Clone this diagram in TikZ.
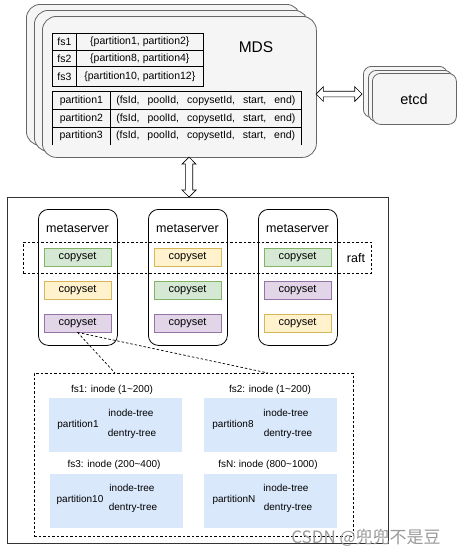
\documentclass[tikz,border=0pt]{standalone}
\usepackage{fontspec}
\setmainfont{Liberation Sans}
\newfontfamily\cjkfont{Noto Sans CJK SC}
\usetikzlibrary{shapes.arrows}
\definecolor{mdsfill}{HTML}{F5F5F5}
\definecolor{mdsline}{HTML}{666666}
\definecolor{gfill}{HTML}{D5E8D4}
\definecolor{gline}{HTML}{82B366}
\definecolor{yfill}{HTML}{FFF2CC}
\definecolor{yline}{HTML}{D6B656}
\definecolor{pfill}{HTML}{E1D5E7}
\definecolor{pline}{HTML}{9673A6}
\definecolor{bfill}{HTML}{DAE8FC}
\definecolor{boxline}{HTML}{333333}
\newcommand{\wsp}{\hspace{8pt}}
\begin{document}
\begin{tikzpicture}[x=1pt,y=-1pt,
  mdsbox/.style={draw=mdsline, fill=mdsfill, rounded corners=14pt, line width=0.8pt, anchor=north west, inner sep=0pt, minimum width=274pt, minimum height=141pt},
  etcdbox/.style={draw=mdsline, fill=mdsfill, rounded corners=8pt, line width=0.8pt, anchor=north west, inner sep=0pt, minimum width=84pt, minimum height=51pt},
  cell/.style={draw=black, line width=0.7pt, inner sep=0pt, anchor=north west, font=\fontsize{10.5}{12}\selectfont},
  tcell/.style={inner sep=0pt, anchor=north west, font=\fontsize{10.5}{12}\selectfont},
  hollowarrow/.style={double arrow, draw=black, fill=white, line width=0.7pt, outer sep=0pt},
  msbox/.style={draw=black, rounded corners=10pt, line width=0.8pt, anchor=north west, minimum width=79pt, minimum height=136pt, inner sep=0pt},
  mslabel/.style={font=\fontsize{12.5}{15}\selectfont},
  csbox/.style={line width=0.8pt, minimum width=67pt, minimum height=18pt, inner sep=0pt, font=\fontsize{11}{13}\selectfont},
  csg/.style={csbox, draw=gline, fill=gfill},
  csy/.style={csbox, draw=yline, fill=yfill},
  csp/.style={csbox, draw=pline, fill=pfill},
  dashbox/.style={draw=black, line width=0.7pt, dash pattern=on 2.5pt off 2pt, anchor=north west, inner sep=0pt},
  dashline/.style={draw=black, line width=0.7pt, dash pattern=on 2.5pt off 2pt},
  partbox/.style={fill=bfill, anchor=north west, minimum width=133pt, minimum height=54pt, inner sep=0pt},
  small/.style={font=\fontsize{10}{12}\selectfont}
]
\useasboundingbox (0,0) rectangle (467,558);

% MDS stack
\node[mdsbox] (mds3) at (26,4) {};
\node[mdsbox] (mds2) at (34,10) {};
\node[mdsbox] (mds1) at (42,16) {};
\node[font=\fontsize{15.5}{18}\selectfont] (mdslabel) at (256,47) {MDS};

% table 1
\node[cell, minimum width=24pt, minimum height=17pt] (f1a) at (52,33) {fs1};
\node[cell, minimum width=127pt, minimum height=17pt] (f1b) at (76,33) {\{partition1, partition2\}};
\node[cell, minimum width=24pt, minimum height=16pt] (f2a) at (52,50) {fs2};
\node[cell, minimum width=127pt, minimum height=16pt] (f2b) at (76,50) {\{partition8, partition4\}};
\node[cell, minimum width=24pt, minimum height=20pt] (f3a) at (52,66) {fs3};
\node[cell, minimum width=127pt, minimum height=20pt] (f3b) at (76,66) {\{partition10, partition12\}};

% table 2
\node[cell, minimum width=58pt, minimum height=18pt] (p1a) at (52,91) {partition1};
\node[cell, minimum width=191pt, minimum height=18pt] (p1b) at (110,91) {(fsId,\wsp poolId,\wsp copysetId,\wsp start,\wsp end)};
\node[cell, minimum width=58pt, minimum height=18pt] (p2a) at (52,109) {partition2};
\node[cell, minimum width=191pt, minimum height=18pt] (p2b) at (110,109) {(fsId,\wsp poolId,\wsp copysetId,\wsp start,\wsp end)};
\node[tcell, minimum width=58pt, minimum height=18pt] (p3a) at (52,127) {partition3};
\node[tcell, minimum width=191pt, minimum height=18pt] (p3b) at (110,127) {(fsId,\wsp poolId,\wsp copysetId,\wsp start,\wsp end)};
\draw[line width=0.7pt] (p3a.south west) -- (p3a.north west);
\draw[line width=0.7pt] (p3b.south west) -- (p3b.north west);
\draw[line width=0.7pt] (p3b.south east) -- (p3b.north east);

% etcd stack
\node[etcdbox] (etcd3) at (363,66) {};
\node[etcdbox] (etcd2) at (368,70) {};
\node[etcdbox] (etcd1) at (372,73) {};
\node[font=\fontsize{14.5}{17}\selectfont] (etcdlabel) at (414,99) {etcd};

% arrows
\node[hollowarrow, minimum height=46pt, inner xsep=0pt, inner ysep=2.5pt, double arrow head extend=4.5pt] (harrow) at (339,94) {};
\node[hollowarrow, minimum height=40pt, inner xsep=3.3pt, inner ysep=0pt, double arrow head extend=3.3pt, shape border rotate=90] (varrow) at (189,177) {};

% big box
\node[draw=boxline, line width=1pt, anchor=north west, minimum width=381pt, minimum height=346pt, inner sep=0pt] (cluster) at (7,197) {};

% raft
\node[dashbox, minimum width=348pt, minimum height=31pt] (raftbox) at (23,242) {};
\node[font=\fontsize{12.5}{15}\selectfont] (raftlabel) at (356,258) {raft};

% metaservers
\node[msbox] (ms1) at (38,209) {};
\node[msbox] (ms2) at (148,209) {};
\node[msbox] (ms3) at (258,209) {};
\node[mslabel] (ml1) at (77.5,229) {metaserver};
\node[mslabel] (ml2) at (187.5,229) {metaserver};
\node[mslabel] (ml3) at (297.5,229) {metaserver};

\node[csg] (cs11) at (77.5,257) {copyset};
\node[csy] (cs12) at (77.5,290.5) {copyset};
\node[csp] (cs13) at (77.5,323) {copyset};
\node[csy] (cs21) at (187.5,257) {copyset};
\node[csg] (cs22) at (187.5,290.5) {copyset};
\node[csp] (cs23) at (187.5,323) {copyset};
\node[csg] (cs31) at (297.5,257) {copyset};
\node[csp] (cs32) at (297.5,290.5) {copyset};
\node[csy] (cs33) at (297.5,323) {copyset};

% detail box
\node[dashbox, minimum width=319pt, minimum height=163pt] (detail) at (34,373) {};
\coordinate (d1) at (115,373);
\coordinate (d2) at (268,373);
\draw[dashline] (cs13.south) -- (d1);
\draw[dashline] (cs13.south) -- (d2);

\node[small] (fs1l) at (112,390) {fs1: inode (1\textasciitilde 200)};
\node[small] (fs2l) at (270,390) {fs2: inode (1\textasciitilde 200)};
\node[small] (fs3l) at (114,465) {fs3: inode (200\textasciitilde 400)};
\node[small] (fsNl) at (268,465) {fsN: inode (800\textasciitilde 1000)};

\node[partbox] (pb1) at (49,398) {};
\node[partbox] (pb2) at (204,398) {};
\node[partbox] (pb3) at (50,474) {};
\node[partbox] (pb4) at (204,474) {};

\node[small] (pn1) at (78,425) {partition1};
\node[small] (it1) at (131,413) {inode-tree};
\node[small] (dt1) at (132,434) {dentry-tree};
\node[small] (pn2) at (233,425) {partition8};
\node[small] (it2) at (286,413) {inode-tree};
\node[small] (dt2) at (288,434) {dentry-tree};
\node[small] (pn3) at (80,500) {partition10};
\node[small] (it3) at (132,488) {inode-tree};
\node[small] (dt3) at (133,508) {dentry-tree};
\node[small] (pn4) at (234,500) {partitionN};
\node[small] (it4) at (286,488) {inode-tree};
\node[small] (dt4) at (288,508) {dentry-tree};

% watermark
\node[text=black!40, font=\cjkfont\fontsize{17}{20}\selectfont, inner sep=0pt] (wm) at (366,538) {CSDN @兜兜不是豆};
\end{tikzpicture}
\end{document}
